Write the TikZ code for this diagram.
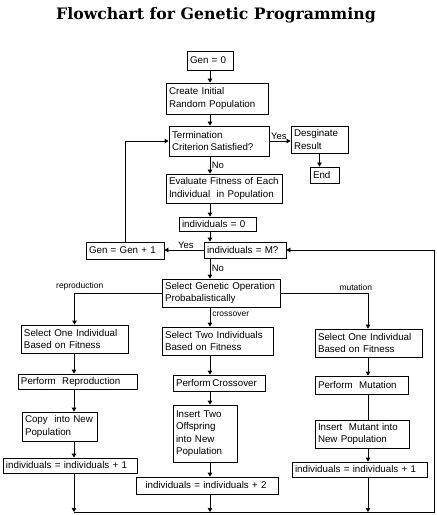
\documentclass[tikz,border=0pt]{standalone}
\usepackage{fontspec}
\newfontfamily\genfont{Liberation Sans}
\newfontfamily\titlefont{DejaVu Serif}
\usetikzlibrary{arrows.meta}

\begin{document}
\begin{tikzpicture}[x=1bp,y=-1bp,line width=0.8bp,
    box/.style={draw,inner xsep=3bp,inner ysep=1.5bp,align=left,
      font=\genfont\fontsize{9.8}{12.5}\selectfont},
    arr/.style={-{Triangle[length=4bp,width=4.5bp]}},
    yesno/.style={font=\genfont\fontsize{9.5}{10}\selectfont,inner sep=1.5bp},
    oplabel/.style={font=\genfont\fontsize{8.5}{9}\selectfont,inner sep=2bp}]
    \useasboundingbox (0,0) rectangle (437,515);
    \node at (216,15.5) {\titlefont\fontsize{15.8}{18}\selectfont\bfseries Flowchart for Genetic Programming};
    % columns of the chart
    \coordinate (mainx) at (210,0);
    \coordinate (colL) at (74,0);
    \coordinate (colR) at (368,0);
    \coordinate (botL) at (74,512);
    \coordinate (botR) at (434.5,512);
    % top part
    \node[box,text width=40bp,minimum height=19bp] (gen0) at (210,60.5) {Gen = 0};
    \node[box,text width=96bp,minimum height=31bp] (init) at (217,98.5) {Create Initial\\Random Population};
    \node[box,text width=94bp,minimum height=30bp] (term) at (219,141) {Termination\\Criterion\,Satisfied?};
    \node[box,text width=51bp,minimum height=27bp] (result) at (319.5,139.5) {Desginate\\Result};
    \node[box,text width=23bp,minimum height=16bp] (done) at (324.5,175) {End};
    \node[box,text width=110bp,minimum height=29bp] (eval) at (224,188.5) {Evaluate Fitness of Each\\Individual\ \ in Population};
    \node[box,text width=71bp,minimum height=14bp] (ind0) at (217.5,224) {individuals = 0};
    \node[box,text width=72bp,minimum height=17bp] (genplus) at (125,250.5) {Gen = Gen + 1};
    \node[box,text width=76bp,minimum height=16bp] (indM) at (245,250) {individuals = M?};
    \node[box,text width=112bp,minimum height=28bp] (select) at (221,293) {Select Genetic Operation\\Probabalistically};
    % three branches
    \node[box,text width=101bp,minimum height=28bp] (selL) at (74.5,339) {Select One Individual\\Based on Fitness};
    \node[box,text width=105bp,minimum height=28bp] (selC) at (217.5,341) {Select Two Individuals\\Based on Fitness};
    \node[box,text width=101bp,minimum height=28bp] (selR) at (368.5,343) {Select One Individual\\Based on Fitness};
    \node[box,text width=113bp,minimum height=15bp] (repro) at (77.5,381.5) {Perform\ \ Reproduction};
    \node[box,text width=86bp,minimum height=16bp] (cross) at (219,383) {Perform\,Crossover};
    \node[box,text width=87bp,minimum height=18bp] (mutate) at (361.5,385) {Perform\ \ Mutation};
    \node[box,text width=69bp,minimum height=29bp] (copy) at (59.5,426.5) {Copy\ \ into New\\Population};
    \node[box,text width=58bp,minimum height=57bp] (insertC) at (205,433.5) {Insert Two\\Offspring\\into New\\Population};
    \node[box,text width=88bp,minimum height=28bp] (insertM) at (362,434) {Insert\ \ Mutant into\\New Population};
    \node[box,text width=128bp,minimum height=15bp] (incL) at (70,465.5) {individuals = individuals + 1};
    \node[box,text width=136bp,minimum height=17bp] (incC) at (207,485.5) {\ \ individuals = individuals + 2};
    \node[box,text width=129bp,minimum height=15bp] (incR) at (359.5,469.5) {individuals = individuals + 1};
    % main column
    \draw[arr] (gen0.south) -- (mainx |- init.north);
    \draw[arr] (mainx |- init.south) -- (mainx |- term.north);
    \draw[arr] (mainx |- term.south) -- node[yesno,right] {No} (mainx |- eval.north);
    \draw[arr] (mainx |- eval.south) -- (mainx |- ind0.north);
    \draw[arr] (mainx |- ind0.south) -- (mainx |- indM.north);
    \draw[arr] (mainx |- indM.south) -- node[yesno,right] {No} (mainx |- select.north);
    \draw[arr] (mainx |- select.south) -- node[oplabel,right,pos=0.35] {crossover} (mainx |- selC.north);
    \draw[arr] (mainx |- selC.south) -- (mainx |- cross.north);
    \draw[arr] (mainx |- cross.south) -- (mainx |- insertC.north);
    \draw[arr] (mainx |- insertC.south) -- (mainx |- incC.north);
    \draw[arr] (mainx |- incC.south) -- (mainx |- botL);
    % termination and generation loop
    \draw[arr] (term.east) -- node[yesno,above,pos=0.45] {Yes} (term.east -| result.west);
    \draw[arr] (result.south) -- (result.south |- done.north);
    \draw[arr] (indM.west) -- node[yesno,above,pos=0.45] {Yes} (indM.west -| genplus.east);
    \draw[arr] (genplus.north) |- (term.west);
    % left and right branches
    \draw[arr] (select.west) -| node[oplabel,above,pos=0.47] {reproduction} (selL.north);
    \draw[arr] (select.east) -| node[oplabel,above,pos=0.43] {mutation} (colR |- selR.north);
    \draw[arr] (colL |- selL.south) -- (colL |- repro.north);
    \draw[arr] (colL |- repro.south) -- (colL |- copy.north);
    \draw[arr] (colL |- copy.south) -- (colL |- incL.north);
    \draw[arr] (colL |- incL.south) -- (botL);
    \draw[arr] (colR |- selR.south) -- (colR |- mutate.north);
    \draw (colR |- mutate.south) -- (colR |- insertM.north);
    \draw[arr] (colR |- insertM.south) -- (colR |- incR.north);
    \draw[arr] (colR |- incR.south) -- (colR |- botL);
    % back to the count test
    \draw[arr] (botL) -- (botR) |- (indM.east);
\end{tikzpicture}
\end{document}
